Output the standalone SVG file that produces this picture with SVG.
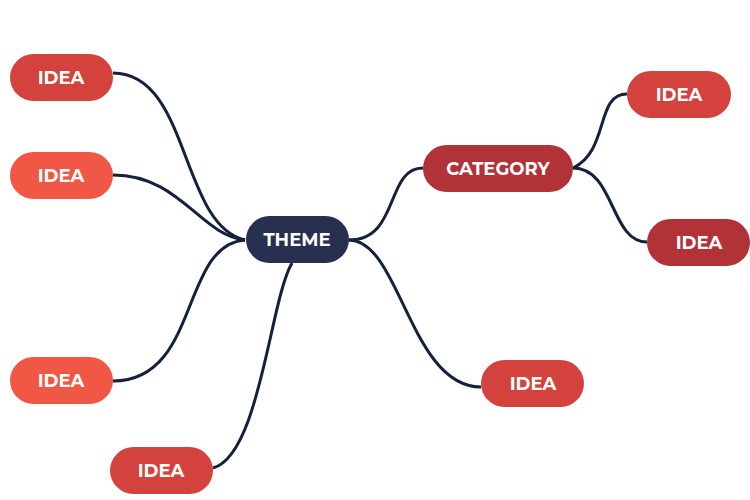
<svg xmlns="http://www.w3.org/2000/svg" width="750" height="500" viewBox="0 0 750 500">
<style>
.c{fill:none;stroke:#14213d;stroke-width:3}
.t{font-family:"Montserrat","Open Sans","Liberation Sans",sans-serif;font-weight:bold;font-size:18px;fill:#fff;text-anchor:middle;dominant-baseline:central}
.a{fill:#d3423c}.b{fill:#f05744}.d{fill:#b13337}.n{fill:#27314f}
</style>
<rect width="750" height="500" fill="#fff"/>
<g id="connectors">
<path class="c" d="M113,73 C190,73 180,225 245,240"/>
<path class="c" d="M113,175 C180,175 200,235 245,240"/>
<path class="c" d="M113,381 C200,381 180,245 245,240"/>
<path class="c" d="M213,468 C260,455 270,300 292,263"/>
<path class="c" d="M349,240 C400,240 385,168 423,168"/>
<path class="c" d="M349,240 C400,240 410,387 481,387"/>
<path class="c" d="M573,168 C610,150 595,94 627,94"/>
<path class="c" d="M573,168 C615,168 610,242 647,242"/>
</g>
<g id="n1"><rect class="a" x="10" y="54" width="103" height="47" rx="23.5"/><text class="t" x="61" y="78">IDEA</text></g>
<g id="n2"><rect class="b" x="10" y="152" width="103" height="47" rx="23.5"/><text class="t" x="61" y="176">IDEA</text></g>
<g id="n3"><rect class="b" x="10" y="357" width="103" height="47" rx="23.5"/><text class="t" x="61" y="381">IDEA</text></g>
<g id="n4"><rect class="a" x="110" y="447" width="103" height="47" rx="23.5"/><text class="t" x="161" y="471">IDEA</text></g>
<g id="theme"><rect class="n" x="246" y="216" width="103" height="47" rx="23.5"/><text class="t" x="297" y="240">THEME</text></g>
<g id="category"><rect class="d" x="423" y="145" width="150" height="47" rx="23.5"/><text class="t" x="498" y="169">CATEGORY</text></g>
<g id="n5"><rect class="a" x="627" y="71" width="104" height="47" rx="23.5"/><text class="t" x="679" y="95">IDEA</text></g>
<g id="n6"><rect class="d" x="647" y="219" width="103" height="47" rx="23.5"/><text class="t" x="699" y="243">IDEA</text></g>
<g id="n7"><rect class="a" x="481" y="360" width="103" height="47" rx="23.5"/><text class="t" x="533" y="384">IDEA</text></g>
</svg>
